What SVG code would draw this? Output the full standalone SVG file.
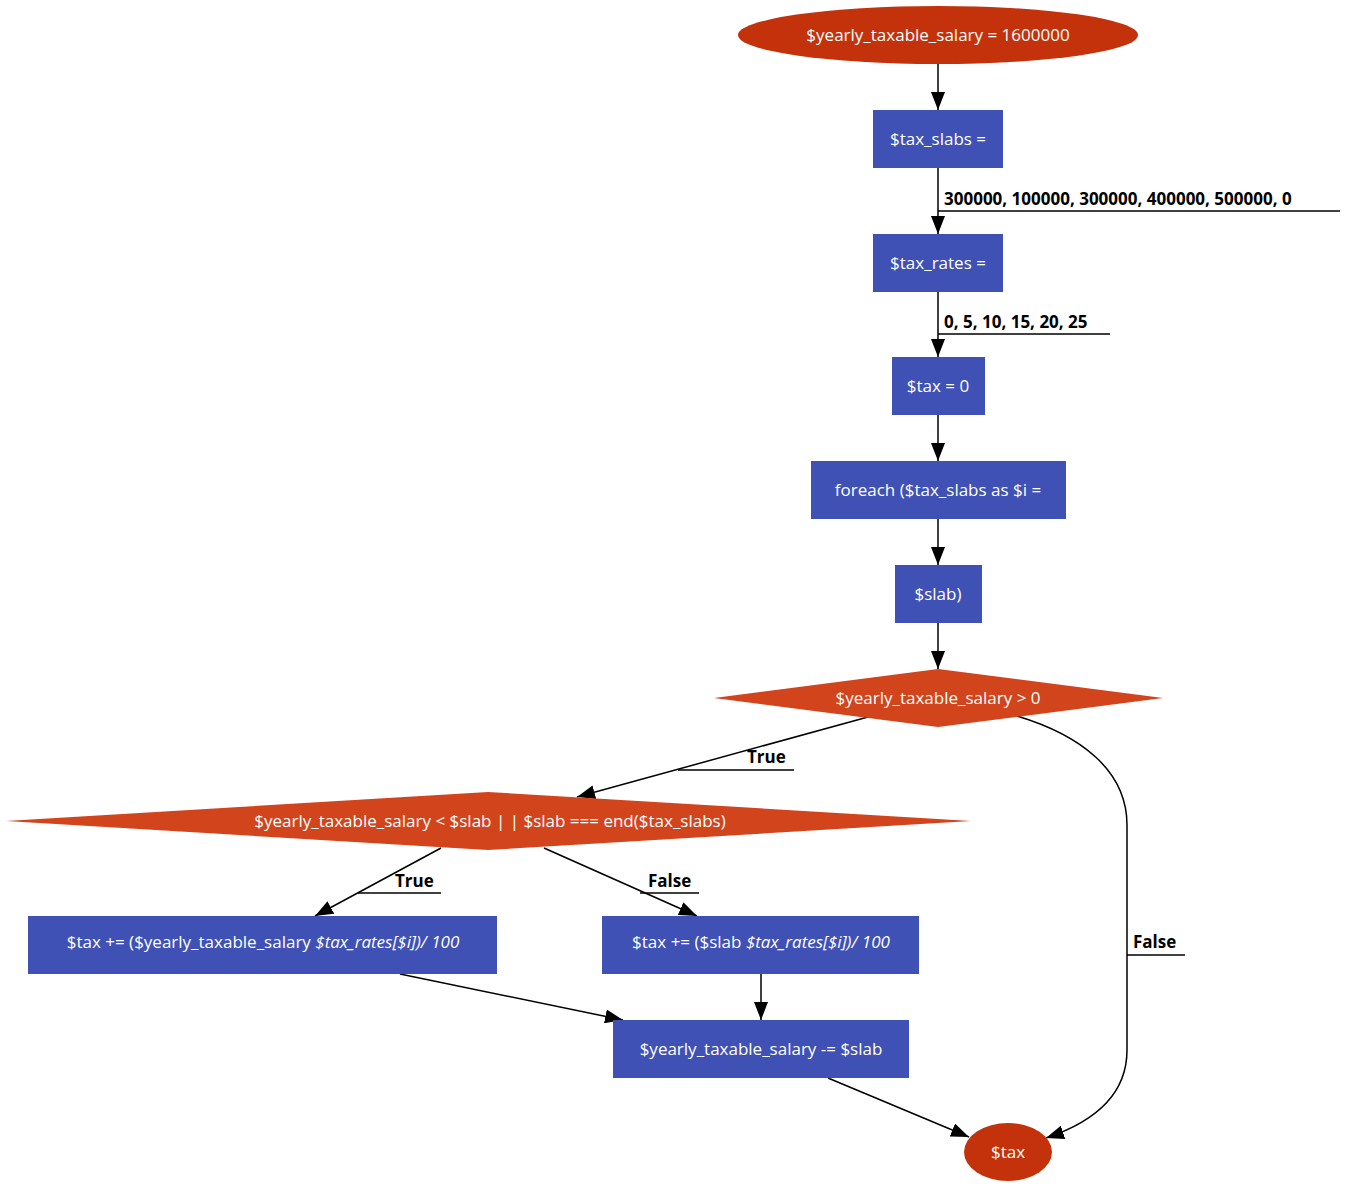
<svg xmlns="http://www.w3.org/2000/svg" width="1358" height="1200" viewBox="0 0 1358 1200">
<style>
.b{fill:#3f51b5}
.t{fill:#fff;font-family:"Open Sans","Noto Sans",sans-serif;font-size:17px;text-anchor:middle}
.l{fill:#000;font-family:"Open Sans","Noto Sans",sans-serif;font-size:17px;font-weight:bold}
.e{stroke:#000;stroke-width:1.5;fill:none}
.u{stroke:#000;stroke-width:1.5}
</style>
<defs><marker id="a" markerWidth="18" markerHeight="14" refX="18" refY="7" orient="auto" markerUnits="userSpaceOnUse"><path d="M0,0L18,7L0,14z" fill="#000"/></marker></defs>
<rect width="1358" height="1200" fill="#fff"/>
<g id="connectors">
<path class="e" d="M938,64V110" marker-end="url(#a)"/>
<path class="e" d="M938,168V234" marker-end="url(#a)"/>
<path class="e" d="M938,292V357" marker-end="url(#a)"/>
<path class="e" d="M938,415V461" marker-end="url(#a)"/>
<path class="e" d="M938,519V565" marker-end="url(#a)"/>
<path class="e" d="M938,623V669" marker-end="url(#a)"/>
<path class="e" d="M868,717L577,797" marker-end="url(#a)"/>
<path class="e" d="M441,848L315,916" marker-end="url(#a)"/>
<path class="e" d="M544,848L697,916" marker-end="url(#a)"/>
<path class="e" d="M1017,716C1080,735 1127,770 1127,825V1050C1127,1090 1100,1120 1046,1138" marker-end="url(#a)"/>
<path class="e" d="M400,974L623,1020" marker-end="url(#a)"/>
<path class="e" d="M761,974V1020" marker-end="url(#a)"/>
<path class="e" d="M828,1078L969,1137" marker-end="url(#a)"/>
<text class="l" x="944" y="205">300000, 100000, 300000, 400000, 500000, 0</text>
<line class="u" x1="938" y1="211" x2="1340" y2="211"/>
<text class="l" x="944" y="328">0, 5, 10, 15, 20, 25</text>
<line class="u" x1="938" y1="334" x2="1110" y2="334"/>
<text class="l" x="747" y="763">True</text>
<line class="u" x1="678" y1="770" x2="794" y2="770"/>
<text class="l" x="395" y="887">True</text>
<line class="u" x1="358" y1="893" x2="441" y2="893"/>
<text class="l" x="648" y="887">False</text>
<line class="u" x1="640" y1="893" x2="699" y2="893"/>
<text class="l" x="1133" y="948">False</text>
<line class="u" x1="1127" y1="955" x2="1185" y2="955"/>
</g>
<g id="start"><ellipse cx="938" cy="35" rx="200" ry="29" fill="#c3320b"/><text class="t" x="938" y="41">$yearly_taxable_salary = 1600000</text></g>
<g id="n1"><rect class="b" x="873" y="110" width="130" height="58"/><text class="t" x="938" y="145">$tax_slabs =</text></g>
<g id="n2"><rect class="b" x="873" y="234" width="130" height="58"/><text class="t" x="938" y="269">$tax_rates =</text></g>
<g id="n3"><rect class="b" x="892" y="357" width="93" height="58"/><text class="t" x="938" y="392">$tax = 0</text></g>
<g id="n4"><rect class="b" x="811" y="461" width="255" height="58"/><text class="t" x="938" y="496">foreach ($tax_slabs as $i =</text></g>
<g id="n5"><rect class="b" x="895" y="565" width="87" height="58"/><text class="t" x="938" y="600">$slab)</text></g>
<g id="d1"><polygon points="714,698 938,669 1163,698 938,727" fill="#d2441c"/><text class="t" x="938" y="704">$yearly_taxable_salary &gt; 0</text></g>
<g id="d2"><polygon points="6,821 488,792 971,821 488,850" fill="#d2441c"/><text class="t" x="490" y="827">$yearly_taxable_salary &lt; $slab | | $slab === end($tax_slabs)</text></g>
<g id="n6"><rect class="b" x="28" y="916" width="469" height="58"/><text class="t" x="263" y="948">$tax += ($yearly_taxable_salary <tspan font-style="italic">$tax_rates[$i])/ 100</tspan></text></g>
<g id="n7"><rect class="b" x="602" y="916" width="317" height="58"/><text class="t" x="761" y="948">$tax += ($slab  <tspan font-style="italic">$tax_rates[$i])/ 100</tspan></text></g>
<g id="n8"><rect class="b" x="613" y="1020" width="296" height="58"/><text class="t" x="761" y="1055">$yearly_taxable_salary -= $slab</text></g>
<g id="end"><ellipse cx="1008" cy="1152" rx="44" ry="29" fill="#c3320b"/><text class="t" x="1008" y="1158">$tax</text></g>
</svg>
